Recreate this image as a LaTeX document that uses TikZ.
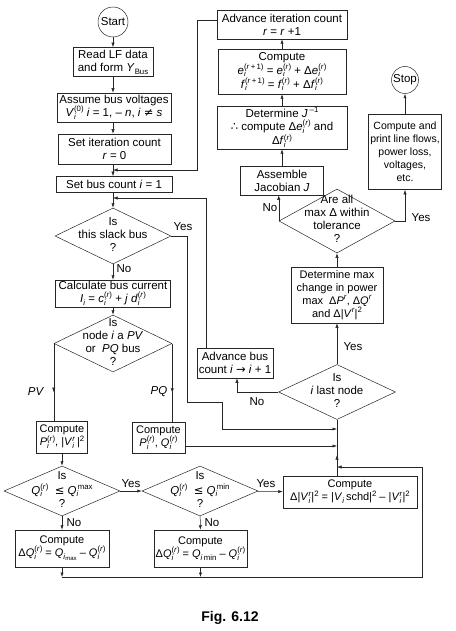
\documentclass[tikz,border=0pt]{standalone}
\usepackage{fontspec}
\setmainfont{Liberation Sans}
\newfontfamily\dejavu{DejaVu Sans}
\usetikzlibrary{shapes.geometric,arrows.meta,decorations.markings}
\newcommand\sy[1]{{\dejavu #1}}
\newcommand\I[1]{\textit{#1}}
\newcommand\scr{\fontsize{7.8}{8}\selectfont}
\newcommand\Sup[1]{\raisebox{4.8pt}{\scr #1}}
\newcommand\Sub[1]{\raisebox{-2.8pt}{\scr #1}}
\newcommand\SubSup[2]{\setbox0=\hbox{\Sub{#1}}\setbox2=\hbox{\Sup{#2}}\ifdim\wd0>\wd2\relax\rlap{\box2\relax}\box0\relax\else\rlap{\box0\relax}\box2\relax\fi}
\newcommand\dtext[1]{\smash{\raisebox{-0.25em}{\makebox[0pt]{\begin{tabular}{@{}c@{}}#1\end{tabular}}}}}
\tikzset{
  ln/.style={draw=black!85, line width=0.5pt},
  arr/.style={ln, -{Latex[length=4.5pt,width=3.2pt]}},
  midarr/.style={ln, postaction={decorate}, decoration={markings, mark=at position #1 with {\arrow{Latex[length=4.5pt,width=3.2pt]}}}},
  bx/.style 2 args={draw=black!85, line width=0.5pt, rectangle, align=center, inner sep=1pt, minimum width=#1, minimum height=#2},
  dia/.style 2 args={draw=black!85, line width=0.5pt, shape=diamond, inner sep=0pt, minimum width=#1, minimum height=#2},
  term/.style={draw=black!85, line width=0.5pt, circle, inner sep=0pt, minimum size=#1},
  lab/.style={inner sep=0pt}
}
\begin{document}
\begin{tikzpicture}[x=1pt,y=-1pt,font=\fontsize{11.5}{13}\selectfont]
\useasboundingbox (0,0) rectangle (455,631);
% left column
\node[term=30pt] (start) at (113,22) {Start};
\node[bx={80pt}{29pt}] (read) at (113,62) {Read LF data\\and form \I{Y}\Sub{Bus}};
\node[bx={114pt}{29pt}] (assume) at (114,107.5) {Assume bus voltages\\\I{V}\SubSup{\I{i}}{(0)} \I{i} = 1, – \I{n}, \I{i} \sy{≠} \I{s}};
\node[bx={113pt}{30pt}] (setit) at (114.5,149) {Set iteration count\\\I{r} = 0};
\node[bx={116pt}{16pt}] (setbus) at (114,184.5) {Set bus count \I{i} = 1};
\node[dia={116pt}{56pt}] (slack) at (113,236) {\dtext{Is\\this slack bus\\?}};
\node[bx={115pt}{27pt}] (current) at (113,293.5) {Calculate bus current\\\I{I}\Sub{\I{i}} = \I{c}\SubSup{\I{i}}{(\I{r})} + \I{j} \I{d}\SubSup{\I{i}}{(\I{r})}};
\node[dia={118pt}{57pt}] (pvpq) at (113,343.5) {\dtext{Is\\node \I{i} a \I{PV}\\or\ \ \I{PQ} bus\\?}};
\node[bx={51pt}{32pt}, font=\fontsize{11}{13}\selectfont] (pvbox) at (62,437) {Compute\\\I{P}\SubSup{\I{i}}{(\I{r})}, |\I{V}\SubSup{\I{i}}{\I{r}}\,|\Sup{2}};
\node[bx={53pt}{31pt}, font=\fontsize{11}{13}\selectfont] (pqbox) at (158.5,437.5) {Compute\\\I{P}\SubSup{\I{i}}{(\I{r})}, \I{Q}\SubSup{\I{i}}{(\I{r})}};
\node[dia={116pt}{50pt}] (dq1) at (62,491) {\dtext{Is\\\I{Q}\SubSup{\I{i}}{(\I{r})}\ \ \sy{≤} \I{Q}\SubSup{\I{i}}{\,max}\\?}};
\node[dia={116pt}{50pt}] (dq2) at (200,491) {\dtext{Is\\\I{Q}\SubSup{\I{i}}{(\I{r})}\ \ \sy{≤} \I{Q}\SubSup{\I{i}}{\,min}\\?}};
\node[bx={134pt}{32pt}, font=\fontsize{11}{13}\selectfont] (dvbox) at (350,492) {Compute\\Δ|\I{V}\SubSup{\I{i}}{\I{r}}|\Sup{2} = |\I{V}\Sub{\I{i}}\,schd|\Sup{2} – |\I{V}\SubSup{\I{i}}{\I{r}}|\Sup{2}};
\node[bx={94pt}{37pt}, font=\fontsize{11}{13}\selectfont] (dq1box) at (62,548.5) {Compute\\Δ\I{Q}\SubSup{\I{i}}{(\I{r})} = \I{Q}\Sub{\I{i}\raisebox{-1.5pt}{\fontsize{6}{6}\selectfont max}} – \I{Q}\SubSup{\I{i}}{(\I{r})}};
\node[bx={93pt}{37pt}, font=\fontsize{11}{13}\selectfont] (dq2box) at (200.5,548.5) {Compute\\Δ\I{Q}\SubSup{\I{i}}{(\I{r})} = \I{Q}\Sub{\I{i}\,min} – \I{Q}\SubSup{\I{i}}{(\I{r})}};
% middle / right
\node[dia={117pt}{55pt}] (last) at (337,392) {\dtext{Is\\\I{i} last node\\?}};
\node[bx={76pt}{30pt}] (advbus) at (235,363) {Advance bus\\count \I{i} \sy{→} \I{i} + 1};
\node[bx={92pt}{56pt}, font=\fontsize{11}{13}\selectfont] (detmax) at (337,295) {Determine max\\change in power\\max\ \ Δ\I{P}\Sup{\I{r}}, Δ\I{Q}\Sup{\I{r}}\\and Δ|\I{V}\Sup{\I{r}}|\Sup{2}};
\node[dia={116pt}{64pt}] (tol) at (337,221) {\dtext{Are all\\max Δ within\\tolerance\\?}};
\node[bx={83pt}{29pt}] (asm) at (282,180.5) {Assemble\\Jacobian \I{J}};
\node[bx={130pt}{43pt}] (detJ) at (282,127.5) {Determine \I{J}\,\Sup{–1}\\\sy{∴} compute Δ\I{e}\SubSup{\I{i}}{(\I{r})} and\\Δ\I{f}\SubSup{\I{i}}{(\I{r})}};
\node[bx={128pt}{45pt}, font=\fontsize{11.5}{14}\selectfont] (compe) at (282,71.5) {Compute\\\I{e}\SubSup{\I{i}}{(\I{r}\,+\,1)} = \I{e}\SubSup{\I{i}}{(\I{r})} + Δ\I{e}\SubSup{\I{i}}{(\I{r})}\\\I{f}\SubSup{\I{i}}{(\I{r}\,+\,1)} = \I{f}\SubSup{\I{i}}{(\I{r})} + Δ\I{f}\SubSup{\I{i}}{(\I{r})}};
\node[bx={130pt}{29pt}] (advit) at (282,24.5) {Advance iteration count\\\I{r} = \I{r} +1};
\node[bx={73pt}{75pt}, font=\fontsize{10.5}{13}\selectfont] (print) at (405,152) {Compute and\\print line flows,\\power loss,\\voltages,\\etc.};
\node[term=27pt] (stop) at (405,80) {Stop};
\node[lab, font=\bfseries\fontsize{14}{16}\selectfont] (fig) at (230,618) {Fig. 6.12};
% helper coordinates
\coordinate (ai) at (197,170);
\coordinate (ab) at (206,198);
\coordinate (nb) at (237,392);
\coordinate (sy1) at (187,402);
\coordinate (sy2) at (222,429);
\coordinate (jt) at (337,467);
\coordinate (bl) at (422,577);
% main chain
\draw[arr] (start) -- (read);
\draw[arr] (read.south) -- (read.south |- assume.north);
\draw[arr] (assume.south -| read.south) -- (setit.north -| read.south);
\draw[arr] (setit.south -| read.south) -- (setbus.north -| read.south);
\draw[arr] (setbus.south -| slack.north) -- (slack.north);
\draw[arr] (slack) -- (current);
\draw[arr] (current) -- (pvpq);
\draw[midarr=0.63] (pvpq.west) -- (pvpq.west |- pvbox.north);
\draw[midarr=0.63] (pvpq.east) -- (pvpq.east |- pqbox.north);
\draw[arr] (pvbox.south) -- (dq1.north);
\draw[arr] (dq1) -- (dq2);
\draw[arr] (dq2) -- (dvbox);
\draw[arr] (dq1) -- (dq1box);
\draw[arr] (dq2) -- (dq2box);
\draw[arr] (dq1box.south) -- (dq1box.south |- bl);
\draw[arr] (dq2box.south) -- (dq2box.south |- bl);
\draw[arr] (dq1box.south |- bl) -- (bl) -- (bl |- jt) -- (jt);
\draw[midarr=0.37] (dvbox.north -| jt) -- (last.south);
\draw[arr] (slack.east) -| (sy1) -| (sy2) -- (sy2 -| jt);
\draw[arr] ([yshift=-8.5pt]pqbox.east) -- ([yshift=-8.5pt]pqbox.east -| jt);
\draw[arr] (last.west) -- (nb) -- (nb |- advbus.south);
\draw[arr] (advbus.north -| ab) -- (ab) -- (ab -| slack.north);
\draw[arr] (last) -- (detmax);
\draw[arr] (detmax) -- (tol);
\draw[arr] (tol.west) -- (tol.west |- asm.south);
\draw[arr] (tol.east) -| (print.south);
\draw[arr] (print) -- (stop);
\draw[arr] (asm) -- (detJ);
\draw[arr] (detJ) -- (compe);
\draw[arr] (compe) -- (advit);
\draw[arr] ([yshift=4pt]advit.west) -| (ai) -- (ai -| read.south);
% labels
\node[lab] (lyes1) at (183,227) {Yes};
\node[lab] (lno1) at (124,269) {No};
\node[lab] (lpv) at (36,392) {\I{PV}};
\node[lab] (lpq) at (159,392) {\I{PQ}};
\node[lab] (lyes2) at (131,484) {Yes};
\node[lab] (lyes3) at (266,484) {Yes};
\node[lab] (lno2) at (74,523) {No};
\node[lab] (lno3) at (212,523) {No};
\node[lab] (lno4) at (257,402) {No};
\node[lab] (lyes4) at (353,347) {Yes};
\node[lab] (lno5) at (270,208) {No};
\node[lab] (lyes5) at (421,218) {Yes};
\end{tikzpicture}
\end{document}
